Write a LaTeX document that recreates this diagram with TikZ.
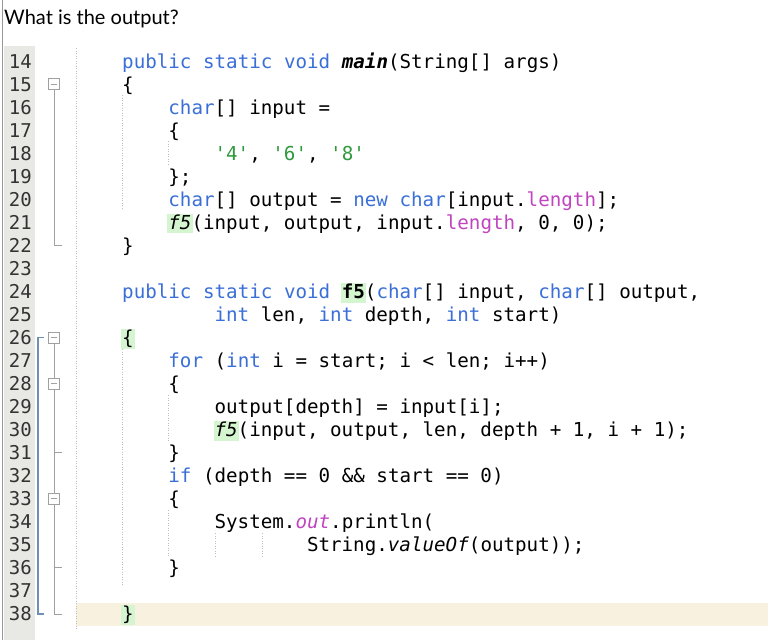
\documentclass[tikz,border=0pt]{standalone}
\usepackage{fontspec}
\usetikzlibrary{calc}
\setmainfont{Lato}
\setmonofont{DejaVu Sans Mono}
\definecolor{kwc}{HTML}{3A6FD8}
\definecolor{strc}{HTML}{2E9A3C}
\definecolor{fldc}{HTML}{C044C0}
\definecolor{hlg}{HTML}{D4F5D0}
\definecolor{gut}{HTML}{E8E8E4}
\definecolor{cream}{HTML}{F8F1DF}
\definecolor{fold}{HTML}{A0A0A0}
\definecolor{brk}{HTML}{6F8FB4}
\newcommand\kw[1]{\textcolor{kwc}{#1}}
\newcommand\st[1]{\textcolor{strc}{#1}}
\newcommand\fl[1]{\textcolor{fldc}{#1}}
\newcommand\hl[1]{\rlap{\kern-1pt\setlength\fboxsep{1pt}\colorbox{hlg}{\phantom{#1}\vphantom{Q\{}}}#1}
\tikzset{code/.style={anchor=base west,inner sep=0,font=\ttfamily\fontsize{19.2}{23}\selectfont},
 lnum/.style={anchor=base east,inner sep=0,font=\ttfamily\fontsize{19}{22}\selectfont,text=black!80},
 foldbox/.style={draw=fold,fill=white,minimum size=11pt,inner sep=0,line width=0.8pt},
 foldln/.style={draw=fold,line width=0.8pt},
 guide/.style={draw=black!25,dotted,line width=0.5pt}}
\begin{document}
\begin{tikzpicture}[x=1pt,y=-1pt]
\useasboundingbox (0,0) rectangle (768,640);
\fill[white] (0,0) rectangle (768,640);
\node[anchor=base west,inner sep=0,font=\fontsize{20}{23}\selectfont] (title) at (4,24) {What is the output?};
\draw[black!40,line width=0.8pt] (2,0) -- (2,640);
\fill[gut] (4,46) rectangle (35,640);
\fill[cream] (76,603) rectangle (768,626);
% guides
\draw[guide] (76,48) -- (76,630);
\draw[guide] (122,95) -- (122,210);
\draw[guide] (122,349) -- (122,585);
\draw[guide] (168,141) -- (168,164);
\draw[guide] (168,395) -- (168,441);
\draw[guide] (168,510) -- (168,556);
\draw[guide] (215,533) -- (215,556);
\draw[guide] (262,533) -- (262,556);
% line numbers
\foreach \n in {14,...,38}{
  \node[lnum] (n\n) at (32,{61+(\n-14)*23.04+7}) {\n};
}
% fold structure
\draw[foldln] (54,{61+1*23.04}) -- (54,{61+8*23.04}) -- (62,{61+8*23.04});
\draw[foldln] (54,{61+12*23.04}) -- (54,{61+24*23.04}) -- (62,{61+24*23.04});
\draw[foldln] (54,{61+17*23.04}) -- (62,{61+17*23.04});
\draw[foldln] (54,{61+22*23.04}) -- (62,{61+22*23.04});
\draw[brk,line width=1.6pt] (44,{61+12*23.04}) -- (38,{61+12*23.04}) -- (38,{61+24*23.04}) -- (44,{61+24*23.04});
\foreach \n in {15,26,28,33}{
  \node[foldbox] (f\n) at (54,{61+(\n-14)*23.04}) {};
  \draw[fold,line width=0.8pt] ($(f\n)+(-3,0)$) -- ($(f\n)+(3,0)$);
}
% code
\newcommand\cl[3]{\node[code] (c#1) at ({122+#2*11.55},{61+(#1-14)*23.04+7}) {#3};}
\cl{14}{0}{\kw{public static void} \textbf{\textit{main}}(String[] args)}
\cl{15}{0}{\{}
\cl{16}{4}{\kw{char}[] input =}
\cl{17}{4}{\{}
\cl{18}{8}{\st{'4'}, \st{'6'}, \st{'8'}}
\cl{19}{4}{\};}
\cl{20}{4}{\kw{char}[] output = \kw{new} \kw{char}[input.\fl{length}];}
\cl{21}{4}{\hl{\textit{f5}}(input, output, input.\fl{length}, 0, 0);}
\cl{22}{0}{\}}
\cl{24}{0}{\kw{public static void} \hl{\textbf{f5}}(\kw{char}[] input, \kw{char}[] output,}
\cl{25}{8}{\kw{int} len, \kw{int} depth, \kw{int} start)}
\cl{26}{0}{\hl{\{}}
\cl{27}{4}{\kw{for} (\kw{int} i = start; i < len; i++)}
\cl{28}{4}{\{}
\cl{29}{8}{output[depth] = input[i];}
\cl{30}{8}{\hl{\textit{f5}}(input, output, len, depth + 1, i + 1);}
\cl{31}{4}{\}}
\cl{32}{4}{\kw{if} (depth == 0 \&\& start == 0)}
\cl{33}{4}{\{}
\cl{34}{8}{System.\fl{\textit{out}}.println(}
\cl{35}{16}{String.\textit{valueOf}(output));}
\cl{36}{4}{\}}
\cl{38}{0}{\hl{\}}}
\end{tikzpicture}
\end{document}
